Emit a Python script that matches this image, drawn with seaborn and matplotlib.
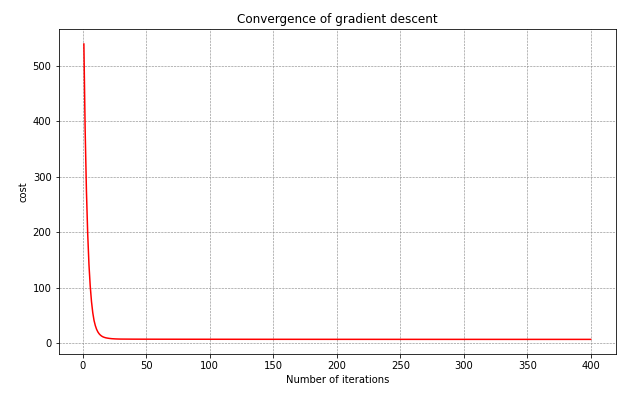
import seaborn as sns
import matplotlib.pyplot as plt
import pandas as pd

sns.set_style('ticks', {'axes.labelcolor': 'black', 'text.color': 'black',
                        'xtick.color': 'black', 'ytick.color': 'black',
                        'axes.edgecolor': 'black'})

# cost values (dense at the start, sparse on the flat tail)
iterations = list(range(1, 31)) + [40, 50, 60, 80, 100, 150, 200, 250, 300, 350, 400]
cost = [540.0, 385.0, 276.0, 198.0, 142.0, 103.0, 75.0, 55.0, 41.0, 31.8,
        25.1, 20.4, 17.0, 14.6, 12.8, 11.5, 10.6, 9.9, 9.4, 9.0,
        8.65, 8.4, 8.15, 8.0, 7.85, 7.72, 7.63, 7.55, 7.49, 7.44,
        7.30, 7.24, 7.20, 7.15, 7.11, 7.04, 6.99, 6.96, 6.93, 6.91, 6.90]

df = pd.DataFrame({'iteration': iterations, 'cost': cost})

fig, ax = plt.subplots(figsize=(632 / 72, 402 / 72), dpi=72)
fig.subplots_adjust(left=0.0926, right=0.975, top=0.928, bottom=0.119)

sns.lineplot(data=df, x='iteration', y='cost', color='red', linewidth=1.5, ax=ax)

ax.grid(True, linestyle='--', color='#8c8c8c', linewidth=0.6)
ax.set_title('Convergence of gradient descent', fontsize=12)
ax.set_xlabel('Number of iterations')
ax.set_ylabel('cost')

fig.savefig('out.png', dpi=72)
